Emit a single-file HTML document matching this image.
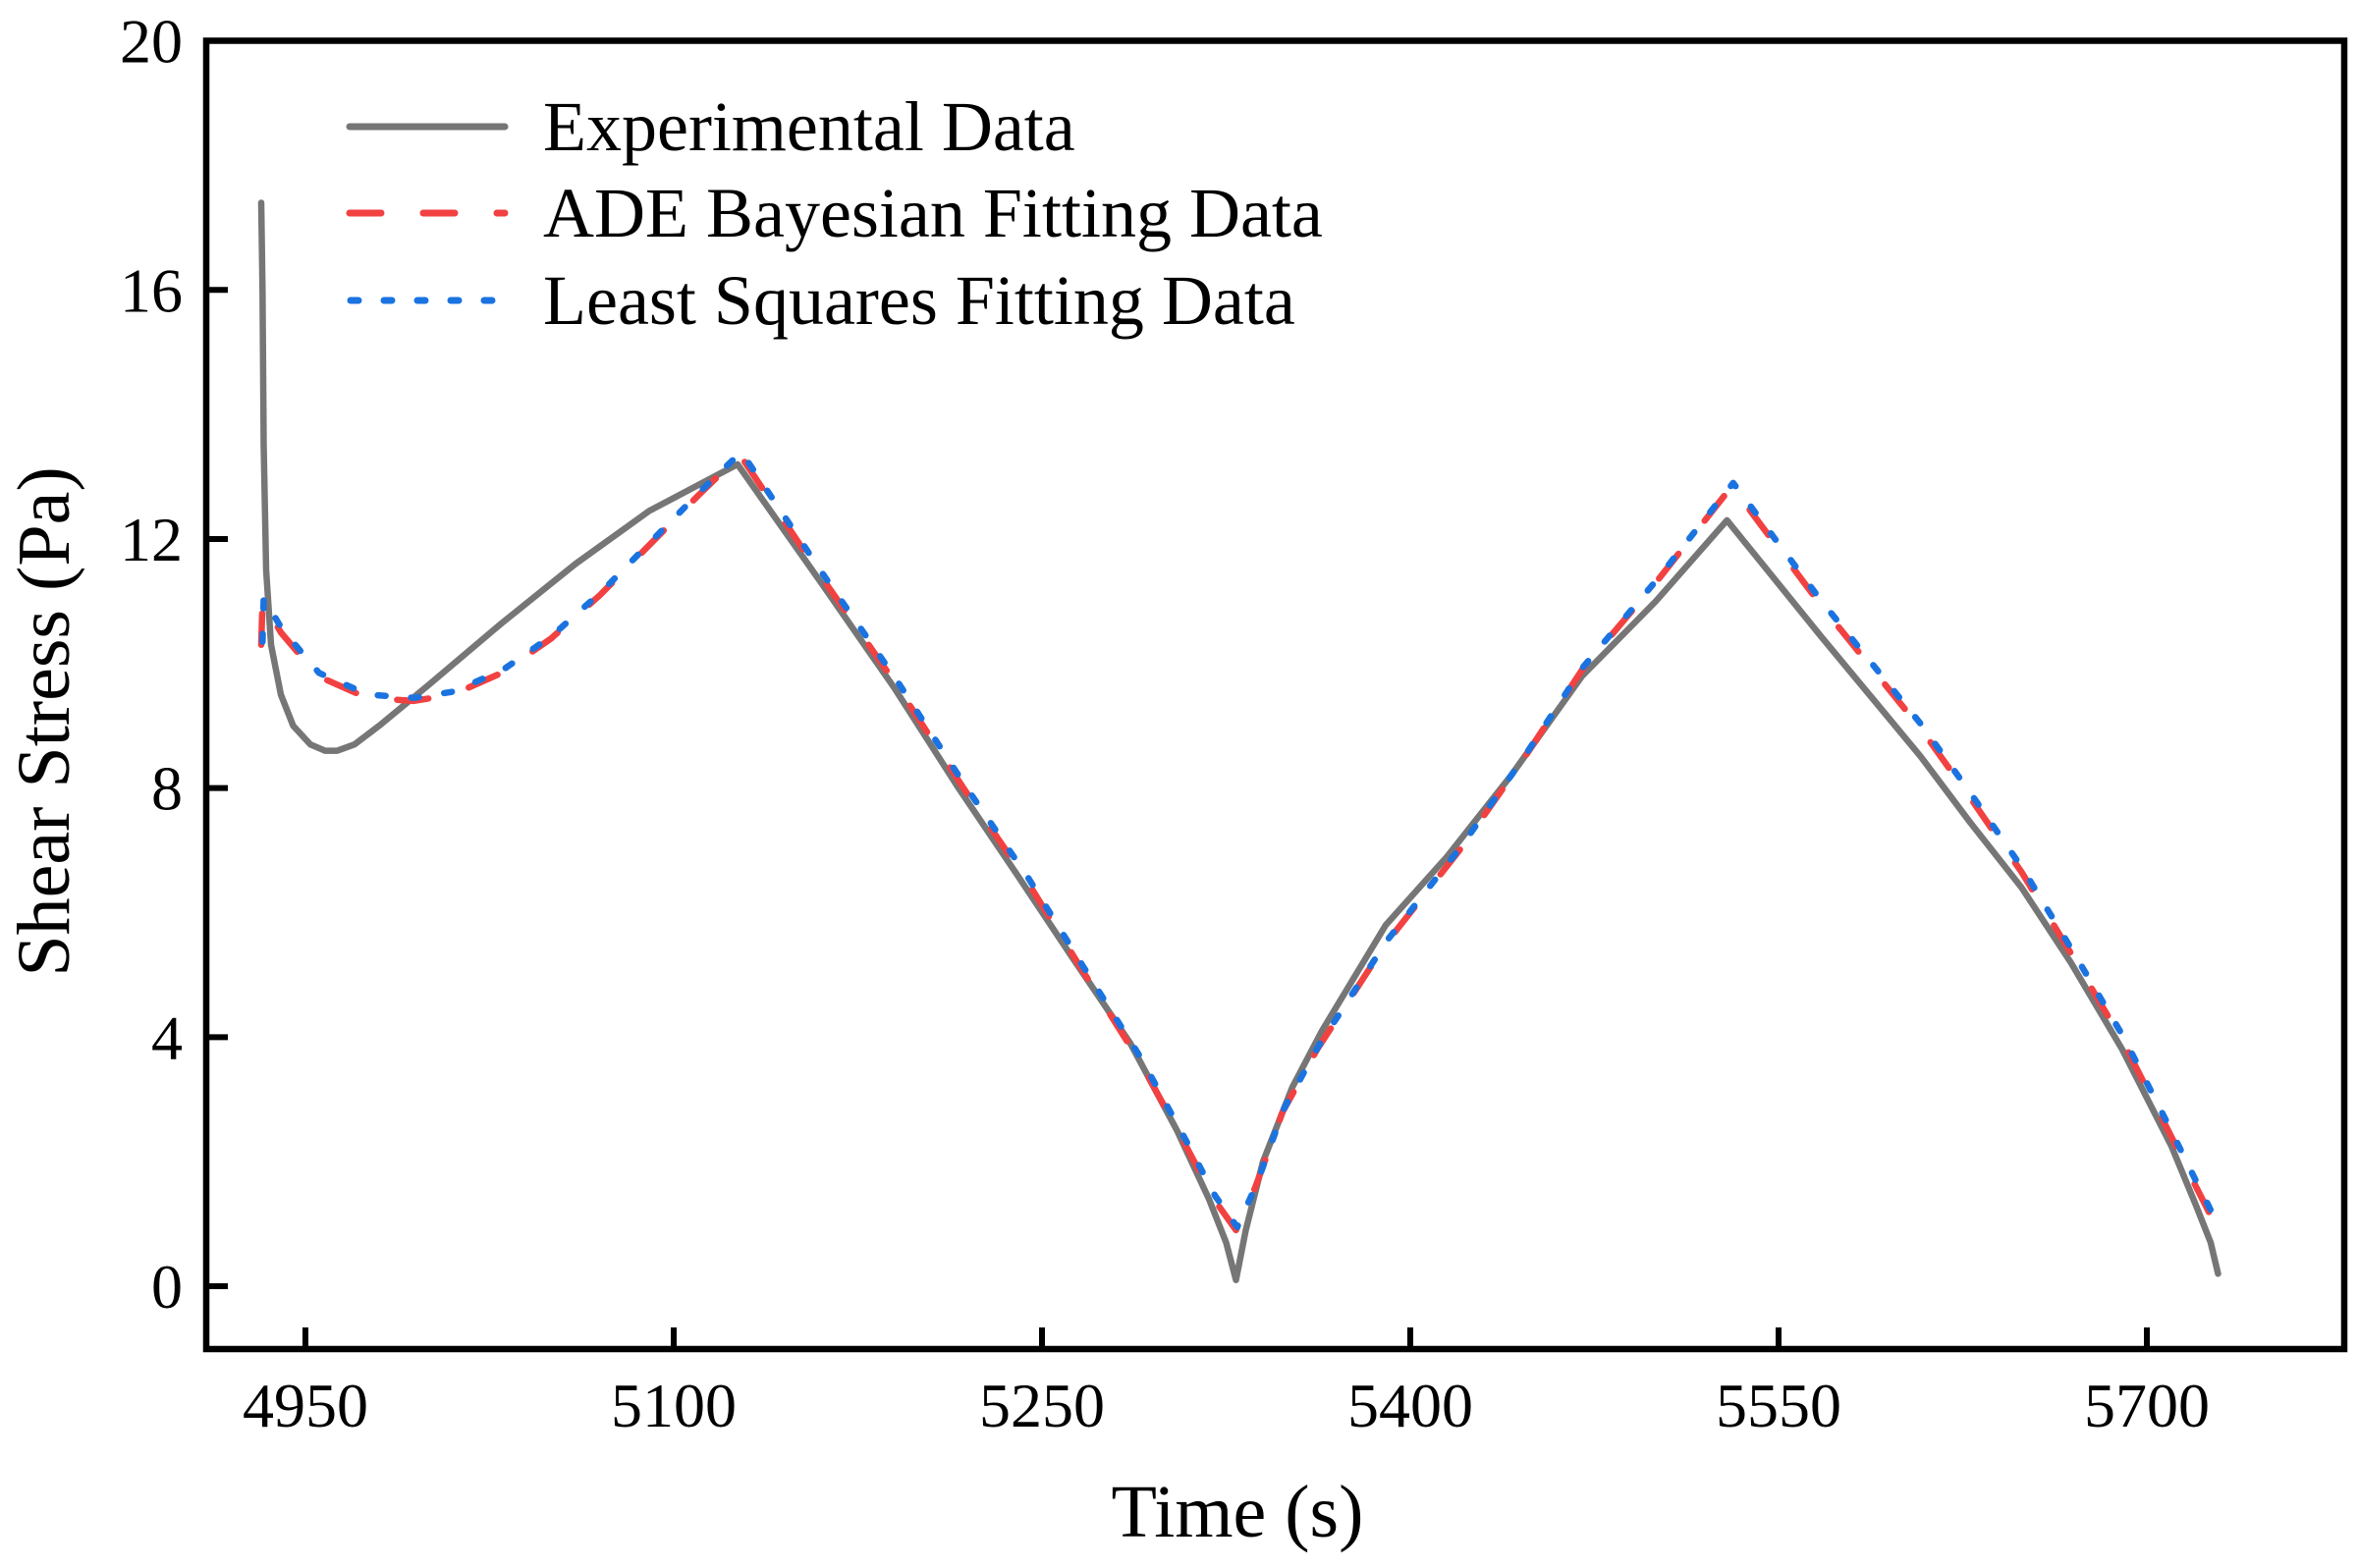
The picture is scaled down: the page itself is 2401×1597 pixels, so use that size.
<!DOCTYPE html>
<html><head><meta charset="utf-8"><style>
html,body{margin:0;padding:0;background:#fff}
svg{display:block}
text{font-family:"Liberation Serif","Times New Roman",serif;fill:#000}
</style></head><body>
<svg id="s" width="2401" height="1597" viewBox="0 0 2401 1597" xmlns="http://www.w3.org/2000/svg">
<rect x="0" y="0" width="2401" height="1597" fill="#fff"/>
<g id="data"></g>
<rect x="210" y="41.5" width="2177" height="1332.5" fill="none" stroke="#000" stroke-width="6.5"/>
<g id="ticks" stroke="#000" stroke-width="6"></g>
<g font-size="64" text-anchor="middle" id="xl"></g>
<g font-size="64" text-anchor="end" id="yl"></g>
<text x="1260" y="1565" font-size="76" text-anchor="middle">Time (s)</text>
<text transform="translate(70,735) rotate(-90)" font-size="76" text-anchor="middle">Shear Stress (Pa)</text>
<line x1="356" y1="129" x2="514" y2="129" stroke="#767676" stroke-width="7" stroke-linecap="round"/>
<line x1="356" y1="217" x2="514" y2="217" stroke="#f24141" stroke-width="7" stroke-linecap="round" stroke-dasharray="32 43"/>
<line x1="357" y1="306" x2="514" y2="306" stroke="#1a73e0" stroke-width="7" stroke-linecap="round" stroke-dasharray="8 26"/>
<text x="553" y="153" font-size="72">Experimental Data</text>
<text x="553" y="241" font-size="72">ADE Bayesian Fitting Data</text>
<text x="553" y="330" font-size="72">Least Squares Fitting Data</text>
</svg>
<script>
var X=function(t){return 311+(t-4950)*2.5},Y=function(v){return 1310-v*63.42};
var NS="http://www.w3.org/2000/svg";
function el(p,n,a){var e=document.createElementNS(NS,n);for(var k in a)e.setAttribute(k,a[k]);document.getElementById(p).appendChild(e);return e;}
var tk=[4950,5100,5250,5400,5550,5700];
tk.forEach(function(t){var x=X(t);el("ticks","line",{x1:x,y1:1374,x2:x,y2:1352});var tx=el("xl","text",{x:x,y:1453});tx.textContent=t;});
[0,4,8,12,16,20].forEach(function(v){var y=Y(v);if(v<20)el("ticks","line",{x1:210,y1:y,x2:232,y2:y});var tx=el("yl","text",{x:186,y:y+22});tx.textContent=v;});
var exp=[[4932,17.4],[4932.5,16],[4933,13.5],[4934,11.5],[4936,10.3],[4940,9.5],[4945,9.0],[4952,8.7],[4958,8.6],[4963,8.6],[4970,8.7],[4980,9.0],[5000,9.65],[5030,10.65],[5060,11.6],[5090,12.45],[5126,13.2],[5160,11.3],[5190,9.6],[5216,8.0],[5240,6.6],[5262,5.3],[5286,3.9],[5305,2.5],[5318,1.4],[5325,0.7],[5329,0.1],[5333,0.9],[5340,2.0],[5352,3.2],[5364,4.1],[5390,5.8],[5415,6.9],[5441,8.2],[5470,9.8],[5500,11.0],[5529,12.3],[5567,10.45],[5608,8.5],[5628,7.45],[5649,6.4],[5669,5.2],[5690,3.8],[5710,2.25],[5720,1.3],[5726,0.7],[5729,0.2]];
var fit=[[4932,10.3],[4932.5,11.0],[4940,10.5],[4955,9.8],[4975,9.45],[4994,9.4],[5010,9.5],[5030,9.85],[5050,10.4],[5070,11.1],[5090,11.9],[5110,12.7],[5127,13.35],[5160,11.4],[5190,9.7],[5218,8.0],[5244,6.5],[5266,5.1],[5290,3.6],[5308,2.3],[5320,1.4],[5329,0.9],[5337,1.6],[5348,2.8],[5362,3.8],[5390,5.5],[5420,7.0],[5445,8.4],[5470,9.9],[5500,11.3],[5531,12.85],[5567,10.95],[5608,8.95],[5628,7.85],[5649,6.65],[5669,5.35],[5690,3.95],[5710,2.4],[5720,1.6],[5729,0.9]];
function pts(a,dv){return a.map(function(p){return X(p[0]).toFixed(1)+","+Y(p[1]+(dv||0)).toFixed(1)}).join(" ");}
el("data","polyline",{points:pts(exp),fill:"none",stroke:"#767676","stroke-width":6.5,"stroke-linejoin":"round","stroke-linecap":"round"});
el("data","polyline",{points:pts(fit),fill:"none",stroke:"#f24141","stroke-width":6.5,"stroke-linejoin":"round","stroke-linecap":"round","stroke-dasharray":"32 43"});
el("data","polyline",{points:pts(fit.map(function(p){return [p[0]+0.5,p[1]+0.05]})),fill:"none",stroke:"#1a73e0","stroke-width":6.5,"stroke-linejoin":"round","stroke-linecap":"round","stroke-dasharray":"8 26"});
</script>
</body></html>
